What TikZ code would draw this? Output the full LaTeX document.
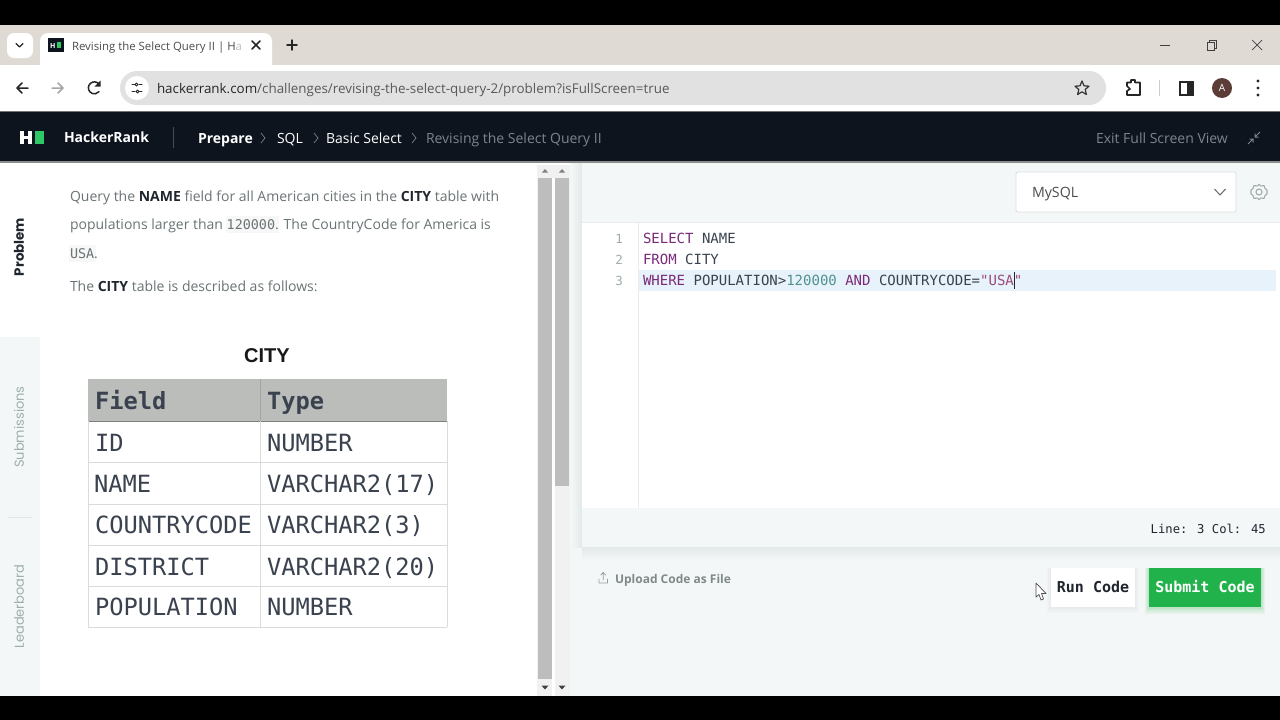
\documentclass[tikz,border=0pt]{standalone}
\usepackage{fontspec}
\setmainfont{Open Sans}
\newfontfamily\codefont{DejaVu Sans Mono}
\newfontfamily\cityfont{Liberation Sans}
\newfontfamily\sidefont{Poppins}
\usetikzlibrary{positioning}

\begin{document}
\begin{tikzpicture}[x=1pt,y=-1pt]
    \definecolor{Chrome_tan}{HTML}{E0DAD5}
    \definecolor{Chrome_url}{HTML}{E1E1E1}
    \definecolor{Head_dark}{HTML}{0E141E}
    \definecolor{Pane_light}{HTML}{F3F7F7}
    \definecolor{Pane_edge}{HTML}{E3E8E8}
    \definecolor{Bar_gray}{HTML}{BDBDBD}
    \definecolor{Bar_track}{HTML}{F1F1F1}
    \definecolor{Tab_head}{HTML}{BBBDBB}
    \definecolor{Tab_line}{HTML}{DADCDC}
    \definecolor{Text_gray}{HTML}{6A7475}
    \definecolor{Text_dark}{HTML}{1F262E}
    \definecolor{Side_gray}{HTML}{9FADAD}
    \definecolor{Crumb_gray}{HTML}{7C858B}
    \definecolor{Code_key}{HTML}{7B2A78}
    \definecolor{Code_text}{HTML}{39424E}
    \definecolor{Code_num}{HTML}{4E9292}
    \definecolor{Code_str}{HTML}{9A4B7C}
    \definecolor{Hi_line}{HTML}{E8F2FB}
    \definecolor{Go_green}{HTML}{22B24C}
    \definecolor{Logo_green}{HTML}{2EC866}
    \definecolor{Avatar_brown}{HTML}{5B3C37}
    \tikzset{
        txt/.style={anchor=base west, inner sep=0pt, outer sep=0pt},
        prosetxt/.style={txt, font=\fontsize{14}{16}\selectfont, text=Text_gray},
        crumb/.style={txt, font=\fontsize{14}{16}\selectfont, text=white},
        sidetxt/.style={inner sep=0pt, rotate=90, font=\sidefont\fontsize{13}{15}\selectfont, text=Side_gray},
        celltxt/.style={txt, font=\codefont\fontsize{23.7}{26}\selectfont, text=Code_text},
        codetxt/.style={txt, font=\codefont\fontsize{14}{16}\selectfont, text=Code_text},
        linenum/.style={anchor=base east, inner sep=0pt, font=\codefont\fontsize{12.5}{14}\selectfont, text=Side_gray},
        icon/.style={line width=1.5pt, draw=black!85, line cap=round, line join=round},
        crumbarrow/.style={line width=0.7pt, draw=Crumb_gray},
        btntxt/.style={inner sep=0pt, font=\codefont\bfseries\fontsize{15}{17}\selectfont},
    }

    % Grundflaechen
    \fill[white] (0,0) rectangle (1280,720);
    \fill[Chrome_tan] (0,25) rectangle (1280,65);
    \fill[white] (0,65) rectangle (1280,111);
    \fill[Head_dark] (0,112) rectangle (1280,162);
    \fill[black!55] (0,110.5) rectangle (1280,112);
    \fill[black!45] (0,161) rectangle (1280,162.5);
    \fill[Pane_light] (570,162.5) rectangle (1280,696);
    \fill[black] (0,0) rectangle (1280,25);
    \fill[black] (0,696) rectangle (1280,720);

    % Browser-Tabs
    \fill[white, rounded corners=8pt] (40,33) rectangle (272,75);
    \fill[white, rounded corners=7pt] (7,33) rectangle (33,58);
    \fill[Head_dark] (48,38) rectangle (64,52);
    \node[txt, font=\bfseries\fontsize{7}{8}\selectfont, text=white] (favH) at (50,48) {H};
    \fill[Logo_green] (56.5,41.5) rectangle (60.5,48);
    \node[txt, font=\fontsize{11.4}{14}\selectfont, text=black!70] (tabtitle) at (72,50) {Revising the Select Query II | H\textcolor{black!25}{a}};
    \draw[icon, line width=1.2pt] (16,43.5) -- (19.5,47) -- (23,43.5);
    \draw[icon] (252,41) -- (260,49) (260,41) -- (252,49);
    \draw[icon] (292,40) -- (292,50) (287,45) -- (297,45);

    % Fensterknoepfe
    \draw[black!75, line width=0.7pt] (1160,45) -- (1170,45);
    \draw[black!75, line width=0.7pt] (1207,42) rectangle (1214,50);
    \draw[black!75, line width=0.7pt] (1209,42) -- (1209,40) -- (1216,40) -- (1216,48) -- (1214,48);
    \draw[black!75, line width=0.7pt] (1252,40) -- (1262,50) (1262,40) -- (1252,50);

    % Adressleiste
    \fill[Chrome_url, rounded corners=17pt] (120,71) rectangle (1106,105);
    \fill[white] (137,88) circle (12);
    \draw[icon, line width=1pt] (132,84.5) -- (135,84.5) (139,84.5) -- (142,84.5) (132,91.5) -- (135,91.5) (139,91.5) -- (142,91.5);
    \draw[icon, line width=0.9pt] (136.5,84.5) circle (1.6) (137.5,91.5) circle (1.6);
    \node[txt, font=\fontsize{13.4}{16}\selectfont, text=black!85] (urltxt) at (157,93) {hackerrank.com\textcolor{black!65}{/challenges/revising-the-select-query-2/problem?isFullScreen=true}};
    \draw[icon] (28,88) -- (17,88) (22,83) -- (17,88) -- (22,93);
    \draw[icon, draw=black!35] (52,88) -- (63,88) (58,83) -- (63,88) -- (58,93);
    \draw[icon] (99,84) arc[start angle=-40, end angle=-320, radius=6];
    \fill[black!85] (100.5,80.5) -- (100.5,86.5) -- (94.5,86.5) -- cycle;
    \draw[black!80, line width=1.2pt, line join=round] (1082,81) -- (1084,85.8) -- (1089,86.2) -- (1085.2,89.5) -- (1086.4,94.5) -- (1082,91.8) -- (1077.6,94.5) -- (1078.8,89.5) -- (1075,86.2) -- (1080,85.8) -- cycle;
    \draw[icon, line width=1.6pt] (1127,82.5) -- (1131,82.5) -- (1131,80) -- (1135,80) -- (1135,82.5) -- (1140,82.5) -- (1140,95) -- (1127,95) -- (1127,91) -- (1130,89) -- (1127,86) -- cycle;
    \draw[black!20, line width=1pt] (1159,80) -- (1159,96);
    \draw[black!85, line width=1.5pt] (1180,82) rectangle (1193,95);
    \fill[black!85] (1187,82) rectangle (1193,95);
    \fill[Avatar_brown] (1222,88) circle (10);
    \node[font=\fontsize{10}{11}\selectfont, text=white, inner sep=0pt] (avatar) at (1222,88) {A};
    \foreach \i in {81,88,95} {
        \fill[black!85] (1258,\i) circle (1.7);
    }

    % Kopfzeile
    \fill[white] (20,131) rectangle (23.5,144);
    \fill[white] (28,131) rectangle (31.5,144);
    \fill[white] (23,136) rectangle (29,139);
    \fill[Logo_green] (34.5,131) rectangle (44,144);
    \node[crumb, font=\bfseries\fontsize{14}{16}\selectfont] (brand) at (64,142.5) {HackerRank};
    \draw[black!70, line width=0.6pt] (173,127) -- (173,148);
    \node[crumb, font=\bfseries\fontsize{14}{16}\selectfont] (prepare) at (198,143) {Prepare};
    \node[crumb] (sql) at (277,143) {SQL};
    \node[crumb] (basic) at (326,143) {Basic Select};
    \node[crumb, text=Crumb_gray] (revising) at (426,143) {Revising the Select Query II};
    \node[crumb, text=Crumb_gray] (exitview) at (1096,143) {Exit Full Screen View};
    \foreach \i in {261,314,412} {
        \draw[crumbarrow] (\i,133) -- (\i+4,138) -- (\i,143);
    }
    \draw[crumbarrow, line width=1pt] (1248,144) -- (1253,139) (1249.5,139) -- (1253,139) -- (1253,142.5);
    \draw[crumbarrow, line width=1pt] (1260,132) -- (1255,137) (1258.5,137) -- (1255,137) -- (1255,133.5);

    % Seitenleiste
    \fill[Pane_light] (0,337) rectangle (40,696);
    \fill[black!10] (8,516.5) rectangle (32,517.5);
    \node[sidetxt, font=\sidefont\bfseries\fontsize{13.4}{15}\selectfont, text=Text_dark] (problemtab) at (19,247) {Problem};
    \node[sidetxt] (submissionstab) at (19,427) {Submissions};
    \node[sidetxt] (leaderboardtab) at (19,606.5) {Leaderboard};

    % Aufgabentext
    \fill[black!3] (226,216) rectangle (279,233);
    \fill[black!3] (69,245) rectangle (96,262);
    \node[prosetxt] (prose1) at (70,201) {Query the \textcolor{Text_dark}{\bfseries NAME} field for all American cities in the \textcolor{Text_dark}{\bfseries CITY} table with};
    \node[prosetxt] (prose2) at (70,229) {populations larger than {\codefont\fontsize{13.4}{15}\selectfont 120000}. The CountryCode for America is};
    \node[prosetxt] (prose3) at (70,258) {{\codefont\fontsize{13.4}{15}\selectfont USA}.};
    \node[prosetxt] (prose4) at (70,291) {The \textcolor{Text_dark}{\bfseries CITY} table is described as follows:};

    % Tabelle
    \node[inner sep=0pt, font=\cityfont\bfseries\fontsize{20}{22}\selectfont, text=black!90] (citytitle) at (267,356) {CITY};
    \fill[Tab_head] (88,379) rectangle (447,421);
    \fill[black!50] (88,420.5) rectangle (447,422);
    \foreach \i in {462.5,504,545,586.5,627} {
        \draw[Tab_line, line width=1pt] (88,\i) -- (447,\i);
    }
    \draw[Tab_line, line width=1pt] (88,421) -- (88,627);
    \draw[Tab_line, line width=1pt] (260.5,421) -- (260.5,627);
    \draw[Tab_line, line width=1pt] (447,421) -- (447,627);
    \draw[Tab_head!88!black, line width=1pt] (260.5,379) -- (260.5,421);
    \node[celltxt, font=\codefont\bfseries\fontsize{23.7}{26}\selectfont] (headF) at (95,409) {Field};
    \node[celltxt, font=\codefont\bfseries\fontsize{23.7}{26}\selectfont] (headT) at (267,409) {Type};
    \node[celltxt] (cellA1) at (95,451.5) {ID};
    \node[celltxt] (cellB1) at (267,451.5) {NUMBER};
    \node[celltxt] (cellA2) at (94,492) {NAME};
    \node[celltxt] (cellB2) at (267,492) {VARCHAR2(17)};
    \node[celltxt] (cellA3) at (95,533) {COUNTRYCODE};
    \node[celltxt] (cellB3) at (267,533) {VARCHAR2(3)};
    \node[celltxt] (cellA4) at (95,575) {DISTRICT};
    \node[celltxt] (cellB4) at (267,575) {VARCHAR2(20)};
    \node[celltxt] (cellA5) at (95,615.5) {POPULATION};
    \node[celltxt] (cellB5) at (267,615.5) {NUMBER};

    % Scrollbalken
    \fill[Bar_track] (537,165) rectangle (570,696);
    \fill[white] (552,178) rectangle (555,696);
    \fill[Bar_gray] (538,178) rectangle (552,679);
    \fill[Bar_gray] (555,178) rectangle (569,486);
    \foreach \i in {545,562} {
        \fill[black!50] (\i-3,172.5) -- (\i+3,172.5) -- (\i,169) -- cycle;
        \fill[black!75] (\i-3.5,685.5) -- (\i+3.5,685.5) -- (\i,689.5) -- cycle;
    }
    \foreach \i in {573,575,577,579} {
        \draw[black!18, line width=1pt, dash pattern=on 1pt off 1pt] (\i,414) -- (\i,445);
    }

    % Editor
    \shade[left color=Pane_light, right color=Pane_edge] (571,163) rectangle (582,547);
    \shade[top color=Pane_edge, bottom color=Pane_light] (582,547) rectangle (1280,560);
    \fill[Pane_light] (582,162.5) rectangle (1280,222);
    \fill[black!8] (582,222) rectangle (1280,223);
    \fill[white] (582,223) rectangle (1280,508);
    \fill[Pane_light] (582,508) rectangle (1280,547);
    \fill[Hi_line] (638,270) rectangle (1276,291);
    \draw[black!8, line width=0.7pt] (638.5,223) -- (638.5,508);
    \draw[draw=black!13, fill=white, rounded corners=2pt, line width=0.8pt] (1016,172) rectangle (1236,212);
    \node[txt, font=\fontsize{14.2}{16}\selectfont, text=black!70] (language) at (1032,197) {MySQL};
    \draw[black!60, line width=1pt] (1214.5,189) -- (1220,195) -- (1225.5,189);
    \draw[Side_gray, line width=1.1pt] (1259,192) circle (3);
    \draw[Side_gray, line width=1.1pt, line join=round] (1259,184.5) -- (1261,186) -- (1264,185.5) -- (1265,188.5) -- (1267,190) -- (1267,194) -- (1265,195.5) -- (1264,198.5) -- (1261,198) -- (1259,199.5) -- (1257,198) -- (1254,198.5) -- (1253,195.5) -- (1251,194) -- (1251,190) -- (1253,188.5) -- (1254,185.5) -- (1257,186) -- cycle;
    \node[linenum] (num1) at (623,243) {1};
    \node[linenum] (num2) at (623,264) {2};
    \node[linenum] (num3) at (623,285) {3};
    \node[codetxt] (code1) at (643,243) {\textcolor{Code_key}{SELECT} NAME};
    \node[codetxt] (code2) at (643,264) {\textcolor{Code_key}{FROM} CITY};
    \node[codetxt] (code3) at (643,285) {\textcolor{Code_key}{WHERE} POPULATION>\textcolor{Code_num}{120000} \textcolor{Code_key}{AND} COUNTRYCODE=\textcolor{Code_str}{"USA"}};
    \draw[black!85, line width=1pt] (1014,272) -- (1014,289);
    \node[anchor=base east, inner sep=0pt, font=\codefont\fontsize{12.2}{14}\selectfont, text=Text_dark] (status) at (1266,533) {Line: 3 Col: 45};

    % Knoepfe unten
    \draw[Text_gray!70, line width=0.8pt, line cap=round] (599,579) -- (599,583) -- (607.5,583) -- (607.5,579) (603.2,580) -- (603.2,572.5) (600.8,575) -- (603.2,572.5) -- (605.6,575);
    \node[txt, font=\bfseries\fontsize{12}{14}\selectfont, text=Text_gray!85] (upload) at (615,583) {Upload Code as File};
    \foreach \i in {1,...,4} {
        \fill[black, opacity=0.012] (1051-\i,568) rectangle (1135+\i,607+\i*1.5);
        \fill[Go_green, opacity=0.07] (1149-\i,568) rectangle (1261+\i,607+\i*1.7);
    }
    \fill[white] (1051,568) rectangle (1135,607);
    \fill[Go_green] (1149,568) rectangle (1261,607);
    \node[btntxt, text=Text_dark] (runbtn) at (1093,587) {Run Code};
    \node[btntxt, text=white] (submitbtn) at (1205,587) {Submit Code};
    \draw[black!70, fill=white, line width=0.7pt, line join=round] (1036,583) -- (1036,597) -- (1039,594.5) -- (1041,600) -- (1043.5,599) -- (1041.5,593.5) -- (1046,593.5) -- cycle;
\end{tikzpicture}
\end{document}
